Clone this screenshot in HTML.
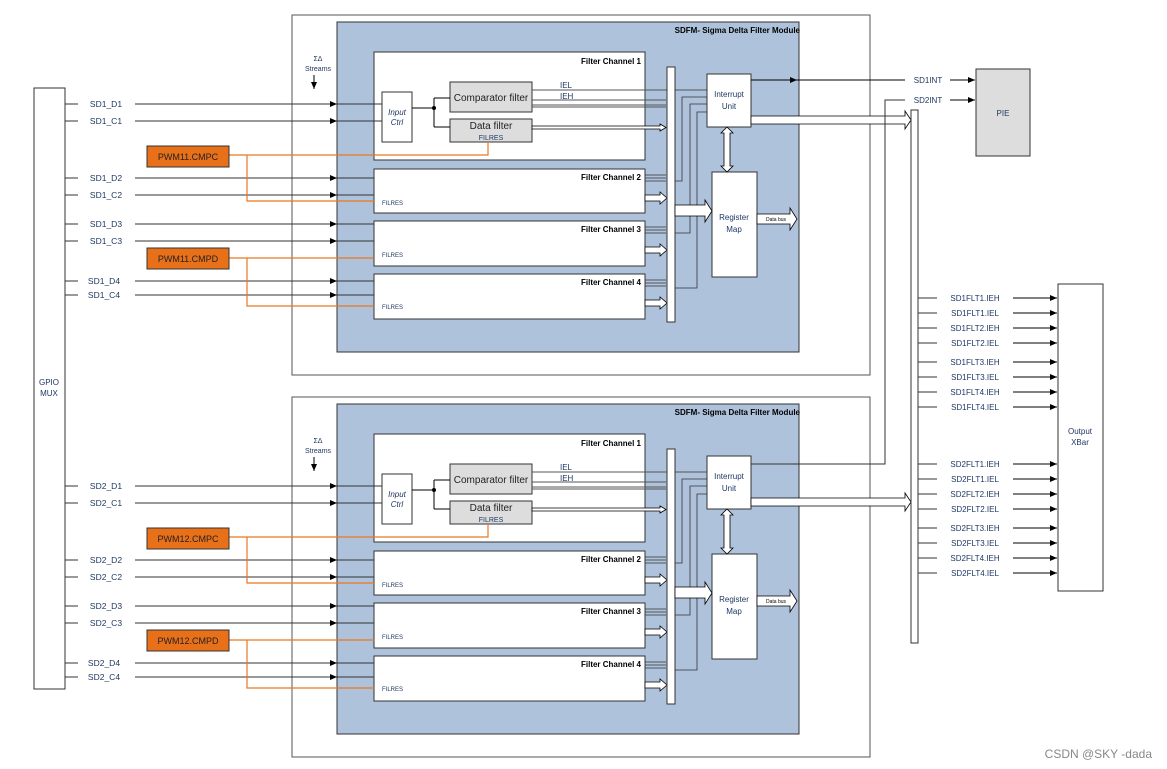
<!DOCTYPE html>
<html><head><meta charset="utf-8"><style>
html,body{margin:0;padding:0;background:#fff;}
svg{display:block;font-family:"Liberation Sans",sans-serif;}
.t{font-size:8px;fill:#1f3864;}
.b{font-size:8px;font-weight:bold;fill:#000;}
</style></head><body>
<svg width="1167" height="769" viewBox="0 0 1167 769" xmlns="http://www.w3.org/2000/svg">
<defs>
<marker id="a" markerWidth="8" markerHeight="8" refX="7" refY="4" orient="auto" markerUnits="userSpaceOnUse"><path d="M0,1 L7,4 L0,7 z" fill="#000"/></marker>
<g id="mod">
  <rect x="292" y="15" width="578" height="360" fill="#fff" stroke="#555" stroke-width="1"/>
  <rect x="337" y="22" width="462" height="330" fill="#afc2db" stroke="#333" stroke-width="1"/>
  <text x="800" y="33" text-anchor="end" class="b">SDFM- Sigma Delta Filter Module</text>
  <text x="318" y="61" text-anchor="middle" class="t" style="font-size:7px">ΣΔ</text>
  <text x="318" y="71" text-anchor="middle" class="t" style="font-size:7px">Streams</text>
  <line x1="314" y1="75" x2="314" y2="89" stroke="#000" marker-end="url(#a)"/>
  <!-- channels -->
  <rect x="374" y="52" width="271" height="108" fill="#fff" stroke="#333"/>
  <text x="641" y="64" text-anchor="end" class="b">Filter Channel 1</text>
  <rect x="374" y="169" width="271" height="44" fill="#fff" stroke="#333"/>
  <text x="641" y="180" text-anchor="end" class="b">Filter Channel 2</text>
  <text x="382" y="205" class="t" style="font-size:6px">FILRES</text>
  <rect x="374" y="221" width="271" height="45" fill="#fff" stroke="#333"/>
  <text x="641" y="232" text-anchor="end" class="b">Filter Channel 3</text>
  <text x="382" y="257" class="t" style="font-size:6px">FILRES</text>
  <rect x="374" y="274" width="271" height="45" fill="#fff" stroke="#333"/>
  <text x="641" y="285" text-anchor="end" class="b">Filter Channel 4</text>
  <text x="382" y="309" class="t" style="font-size:6px">FILRES</text>
  <!-- ch1 internals -->
  <rect x="382" y="92" width="30" height="50" fill="#fff" stroke="#333"/>
  <text x="397" y="115" text-anchor="middle" class="t" font-style="italic">Input</text>
  <text x="397" y="125" text-anchor="middle" class="t" font-style="italic">Ctrl</text>
  <rect x="450" y="82" width="82" height="30" fill="#ddd" stroke="#333"/>
  <text x="491" y="101" text-anchor="middle" style="font-size:10px" fill="#222">Comparator filter</text>
  <rect x="450" y="119" width="82" height="23" fill="#ddd" stroke="#333"/>
  <text x="491" y="129" text-anchor="middle" style="font-size:10px" fill="#222">Data filter</text>
  <text x="491" y="140" text-anchor="middle" class="t" style="font-size:7px">FILRES</text>
  <path d="M412,108 H434 M434,98 V127 M434,98 H450 M434,127 H450" stroke="#000" fill="none"/>
  <circle cx="434" cy="108" r="2" fill="#000"/>
  <text x="560" y="88" class="t">IEL</text>
  <text x="560" y="99" class="t">IEH</text>
  <path d="M532,90 H707 M532,100 H666 M532,105 H666 M532,107 H666" stroke="#555" fill="none"/>
  <polygon points="532,126 660,126 660,124 666,127.5 660,131 660,129 532,129" fill="#fff" stroke="#000" stroke-width="0.8"/>
  <!-- ch2-4 outputs -->
  <path d="M645,175 H666 M645,178 H666 M645,181 H666 M645,227 H666 M645,230 H666 M645,233 H666 M645,280 H666 M645,283 H666 M645,286 H666" stroke="#333" stroke-width="0.7"/>
  <polygon points="645,195 660,195 660,192 667,198 660,204 660,201 645,201" fill="#fff" stroke="#000" stroke-width="0.8"/>
  <polygon points="645,247 660,247 660,244 667,250 660,256 660,253 645,253" fill="#fff" stroke="#000" stroke-width="0.8"/>
  <polygon points="645,300 660,300 660,297 667,303 660,309 660,306 645,306" fill="#fff" stroke="#000" stroke-width="0.8"/>
  <!-- vertical bar -->
  <rect x="667" y="67" width="8" height="255" fill="#fff" stroke="#333"/>
  <!-- routing to interrupt -->
  <path d="M675,181 H682 V97 H707 M675,233 H690 V104 H707 M675,288 H697 V112 H707" stroke="#333" fill="none" stroke-width="0.8"/>
  <!-- interrupt unit -->
  <rect x="707" y="74" width="44" height="53" fill="#fff" stroke="#333"/>
  <text x="729" y="97" text-anchor="middle" class="t">Interrupt</text>
  <text x="729" y="109" text-anchor="middle" class="t">Unit</text>
  <rect x="712" y="172" width="45" height="105" fill="#fff" stroke="#333"/>
  <text x="734" y="220" text-anchor="middle" class="t">Register</text>
  <text x="734" y="232" text-anchor="middle" class="t">Map</text>
  <polygon points="724,133 721,133 727,127 733,133 730,133 730,166 733,166 727,172 721,166 724,166" fill="#fff" stroke="#000" stroke-width="0.8"/>
  <polygon points="675,205 705,205 705,200 712,211 705,222 705,216 675,216" fill="#fff" stroke="#000" stroke-width="0.8"/>
  <polygon points="757,214 790,214 790,208 797,219 790,230 790,224 757,224" fill="#fff" stroke="#000" stroke-width="0.8"/>
  <text x="766" y="221" style="font-size:5px" fill="#000">Data bus</text>
  <polygon points="751,116 905,116 905,111 911,120 905,129 905,124 751,124" fill="#fff" stroke="#000" stroke-width="0.8"/>
  <!-- GPIO inputs -->
  <g stroke="#333" stroke-width="1">
    <path d="M65,104 H78 M135,104 H382 M65,121 H78 M135,121 H382"/>
    <path d="M65,178 H78 M135,178 H374 M65,195 H78 M135,195 H374"/>
    <path d="M65,224 H78 M135,224 H374 M65,241 H78 M135,241 H374"/>
    <path d="M65,281 H78 M135,281 H374 M65,295 H78 M135,295 H374"/>
  </g>
  <g fill="#000">
    <path d="M330,101 L337,104 L330,107z M330,118 L337,121 L330,124z M330,175 L337,178 L330,181z M330,192 L337,195 L330,198z M330,221 L337,224 L330,227z M330,238 L337,241 L330,244z M330,278 L337,281 L330,284z M330,292 L337,295 L330,298z"/>
  </g>
  <!-- orange -->
  <path d="M229,155 H488 V142 M247,155 V201 H374 M229,258 H374 M247,258 V306 H374" stroke="#e87722" fill="none" stroke-width="1.2"/>
</g>
</defs>

<!-- GPIO MUX -->
<rect x="34" y="88" width="31" height="601" fill="#fff" stroke="#333"/>
<text x="49" y="385" text-anchor="middle" class="t">GPIO</text>
<text x="49" y="396" text-anchor="middle" class="t">MUX</text>

<use href="#mod"/>
<use href="#mod" transform="translate(0,382)"/>

<!-- input labels -->
<g class="t" text-anchor="middle" style="font-size:8.5px">
<text x="106" y="107">SD1_D1</text><text x="106" y="124">SD1_C1</text>
<text x="106" y="181">SD1_D2</text><text x="106" y="198">SD1_C2</text>
<text x="106" y="227">SD1_D3</text><text x="106" y="244">SD1_C3</text>
<text x="104" y="284">SD1_D4</text><text x="104" y="298">SD1_C4</text>
<text x="106" y="489">SD2_D1</text><text x="106" y="506">SD2_C1</text>
<text x="106" y="563">SD2_D2</text><text x="106" y="580">SD2_C2</text>
<text x="106" y="609">SD2_D3</text><text x="106" y="626">SD2_C3</text>
<text x="104" y="666">SD2_D4</text><text x="104" y="680">SD2_C4</text>
</g>

<!-- PWM boxes -->
<g fill="#e87019" stroke="#333">
<rect x="147" y="146" width="82" height="21"/><rect x="147" y="248" width="82" height="21"/>
<rect x="147" y="528" width="82" height="21"/><rect x="147" y="630" width="82" height="21"/>
</g>
<g text-anchor="middle" style="font-size:9px" fill="#222">
<text x="188" y="160">PWM11.CMPC</text><text x="188" y="262">PWM11.CMPD</text>
<text x="188" y="542">PWM12.CMPC</text><text x="188" y="644">PWM12.CMPD</text>
</g>

<!-- interrupt outputs -->
<line x1="751" y1="80" x2="797" y2="80" stroke="#000" marker-end="url(#a)"/>
<line x1="797" y1="80" x2="905" y2="80" stroke="#000"/>
<path d="M751,464 H885 V100 H905" stroke="#333" fill="none"/>
<text x="928" y="83" text-anchor="middle" class="t">SD1INT</text>
<text x="928" y="103" text-anchor="middle" class="t">SD2INT</text>
<line x1="950" y1="80" x2="975" y2="80" stroke="#000" marker-end="url(#a)"/>
<line x1="950" y1="100" x2="975" y2="100" stroke="#000" marker-end="url(#a)"/>
<rect x="976" y="69" width="54" height="87" fill="#ddd" stroke="#333"/>
<text x="1003" y="116" text-anchor="middle" class="t">PIE</text>

<!-- big bar -->
<rect x="911" y="110" width="7" height="533" fill="#fff" stroke="#333"/>

<!-- Output XBar -->
<rect x="1058" y="284" width="45" height="307" fill="#fff" stroke="#333"/>
<text x="1080" y="434" text-anchor="middle" class="t">Output</text>
<text x="1080" y="445" text-anchor="middle" class="t">XBar</text>
<g stroke="#333">
<path d="M918,298H937M918,313H937M918,328H937M918,343H937M918,362H937M918,377H937M918,392H937M918,407H937M918,464H937M918,479H937M918,494H937M918,509H937M918,528H937M918,543H937M918,558H937M918,573H937"/>
</g>
<g stroke="#000" marker-end="url(#a)">
<line x1="1013" y1="298" x2="1057" y2="298"/><line x1="1013" y1="313" x2="1057" y2="313"/>
<line x1="1013" y1="328" x2="1057" y2="328"/><line x1="1013" y1="343" x2="1057" y2="343"/>
<line x1="1013" y1="362" x2="1057" y2="362"/><line x1="1013" y1="377" x2="1057" y2="377"/>
<line x1="1013" y1="392" x2="1057" y2="392"/><line x1="1013" y1="407" x2="1057" y2="407"/>
<line x1="1013" y1="464" x2="1057" y2="464"/><line x1="1013" y1="479" x2="1057" y2="479"/>
<line x1="1013" y1="494" x2="1057" y2="494"/><line x1="1013" y1="509" x2="1057" y2="509"/>
<line x1="1013" y1="528" x2="1057" y2="528"/><line x1="1013" y1="543" x2="1057" y2="543"/>
<line x1="1013" y1="558" x2="1057" y2="558"/><line x1="1013" y1="573" x2="1057" y2="573"/>
</g>
<g class="t" text-anchor="middle">
<text x="975" y="301">SD1FLT1.IEH</text><text x="975" y="316">SD1FLT1.IEL</text>
<text x="975" y="331">SD1FLT2.IEH</text><text x="975" y="346">SD1FLT2.IEL</text>
<text x="975" y="365">SD1FLT3.IEH</text><text x="975" y="380">SD1FLT3.IEL</text>
<text x="975" y="395">SD1FLT4.IEH</text><text x="975" y="410">SD1FLT4.IEL</text>
<text x="975" y="467">SD2FLT1.IEH</text><text x="975" y="482">SD2FLT1.IEL</text>
<text x="975" y="497">SD2FLT2.IEH</text><text x="975" y="512">SD2FLT2.IEL</text>
<text x="975" y="531">SD2FLT3.IEH</text><text x="975" y="546">SD2FLT3.IEL</text>
<text x="975" y="561">SD2FLT4.IEH</text><text x="975" y="576">SD2FLT4.IEL</text>
</g>
<text x="1152" y="758" text-anchor="end" style="font-size:12px" fill="#888">CSDN @SKY -dada</text>
</svg>
</body></html>
